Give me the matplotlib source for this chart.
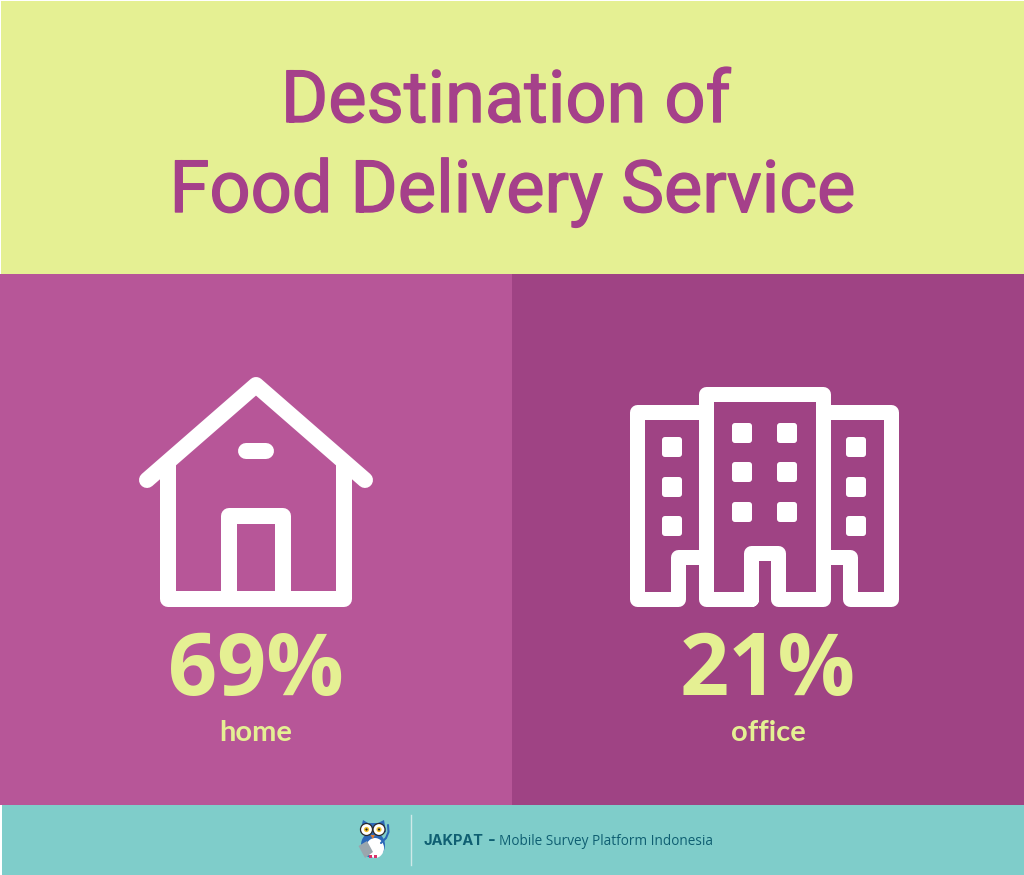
import matplotlib
matplotlib.use("Agg")
from matplotlib import patheffects
from matplotlib import pyplot as plt
from matplotlib.patches import Circle, Ellipse, FancyBboxPatch, Polygon, Rectangle

title_lines = ["Destination of", "Food Delivery Service"]
destinations = ["home", "office"]
shares = [69, 21]
footer_brand = "JAKPAT"
footer_dash = "-"
footer_tagline = "Mobile Survey Platform Indonesia"

YELLOW = "#e5f093"
LIGHT_PURPLE = "#b75698"
DARK_PURPLE = "#9f4384"
TEAL = "#7fcdca"
TITLE_COLOR = "#a5408a"
FOOTER_TEXT = "#0f5f72"


def stroke(ax, points, width=16, cap="round", join="round"):
    xs, ys = zip(*points)
    ax.plot(xs, ys, color="white", lw=width * 72 / 100, solid_capstyle=cap, solid_joinstyle=join)


def draw_house(ax):
    stroke(ax, [(147, 480), (256, 385), (365, 480)])
    stroke(ax, [(168, 465), (168, 598.5), (343.5, 598.5), (343.5, 465)])
    stroke(ax, [(229, 598), (229, 515.5), (282.5, 515.5), (282.5, 598)])
    stroke(ax, [(246, 451), (266, 451)])


def add_window(ax, x, y):
    ax.add_patch(FancyBboxPatch((x + 2, y + 2), 16, 16, boxstyle="round,pad=2,rounding_size=3", fc="white", ec="none"))


def draw_office(ax):
    width = 15
    stroke(ax, [(705.5, 412), (637, 412), (637, 599), (678, 599), (678, 557), (705.5, 557)], width)
    stroke(ax, [(750.5, 599), (705.5, 599), (705.5, 393.5), (822.5, 393.5), (822.5, 599), (777.5, 599), (777.5, 553), (750.5, 553), (750.5, 599)], width)
    stroke(ax, [(822.5, 412), (891, 412), (891, 599), (850, 599), (850, 557), (822.5, 557)], width)
    for x in [662, 846]:
        for y in [437, 477, 516]:
            add_window(ax, x, y)
    for x in [732, 777]:
        for y in [423, 462, 502]:
            add_window(ax, x, y)


def draw_owl(ax):
    blue = "#2c68b8"
    # tail curling up on the right
    ax.plot([381, 386, 388.5, 388], [843, 838, 832, 825], color=blue, lw=1.5, solid_capstyle="round")
    ax.add_patch(Ellipse((373, 845), 24, 26, fc=blue, ec="none"))
    ax.add_patch(Ellipse((375, 848), 18, 20, fc="white", ec="none"))
    ax.add_patch(Polygon([(363, 820), (368, 823), (378, 823), (384, 820), (386, 832), (372, 838), (360, 832)], fc=blue, ec="none"))
    ax.add_patch(Polygon([(358.5, 846), (367, 841), (373, 852), (365, 858)], fc="#9aa6ad", ec="none"))
    for x in [366.5, 379]:
        ax.add_patch(Circle((x, 829.5), 6, fc="white", ec="#2a2a2a", lw=0.9))
        ax.add_patch(Circle((x, 829.5), 2.6, fc="#f2c230", ec="none"))
        ax.add_patch(Circle((x, 829.5), 1.1, fc="#222222", ec="none"))
    ax.add_patch(Polygon([(370.5, 835), (375, 835), (372.8, 839)], fc="#e07a2c", ec="none"))
    for x in [369, 373.5]:
        ax.add_patch(Rectangle((x, 855), 3.2, 2.8, fc="#d8336b", ec="none"))


fig = plt.figure(figsize=(10.24, 8.75), dpi=100, facecolor="white")
ax = fig.add_axes([0, 0, 1, 1])
ax.set_xlim(0, 1024)
ax.set_ylim(875, 0)
ax.axis("off")

ax.add_patch(Rectangle((1, 1), 1023, 273, fc=YELLOW, ec="none"))
ax.add_patch(Rectangle((0, 274), 512, 531, fc=LIGHT_PURPLE, ec="none"))
ax.add_patch(Rectangle((512, 274), 512, 531, fc=DARK_PURPLE, ec="none"))
ax.add_patch(Rectangle((2, 805), 1022, 70, fc=TEAL, ec="none"))

thicken = [patheffects.withStroke(linewidth=1.0, foreground=TITLE_COLOR)]
ax.text(506, 122, title_lines[0], fontsize=52, color=TITLE_COLOR, family="Roboto", ha="center", va="baseline", path_effects=thicken)
ax.text(512.5, 212, title_lines[1], fontsize=52, color=TITLE_COLOR, family="Roboto", ha="center", va="baseline", path_effects=thicken)

draw_house(ax)
draw_office(ax)

for center, share, name in zip([256, 768], shares, destinations):
    ax.text(center, 695, f"{share}%", fontsize=62, fontweight="bold", color=YELLOW, family="Open Sans", ha="center", va="baseline")
    ax.text(center, 741, name, fontsize=21, fontweight="bold", color=YELLOW, family="Lato", ha="center", va="baseline")

draw_owl(ax)
ax.plot([411, 411], [815, 865], color="#cfe9e8", lw=1.0)
ax.text(423, 845, footer_brand, fontsize=10.5, fontweight="bold", color=FOOTER_TEXT, family="Inter", ha="left", va="baseline")
ax.text(487.5, 845, footer_dash, fontsize=12, fontweight="bold", color=FOOTER_TEXT, family="Inter", ha="left", va="baseline")
ax.text(499, 845, footer_tagline, fontsize=9.8, color=FOOTER_TEXT, family="Open Sans", ha="left", va="baseline")

fig.savefig("out.png", dpi=100)
